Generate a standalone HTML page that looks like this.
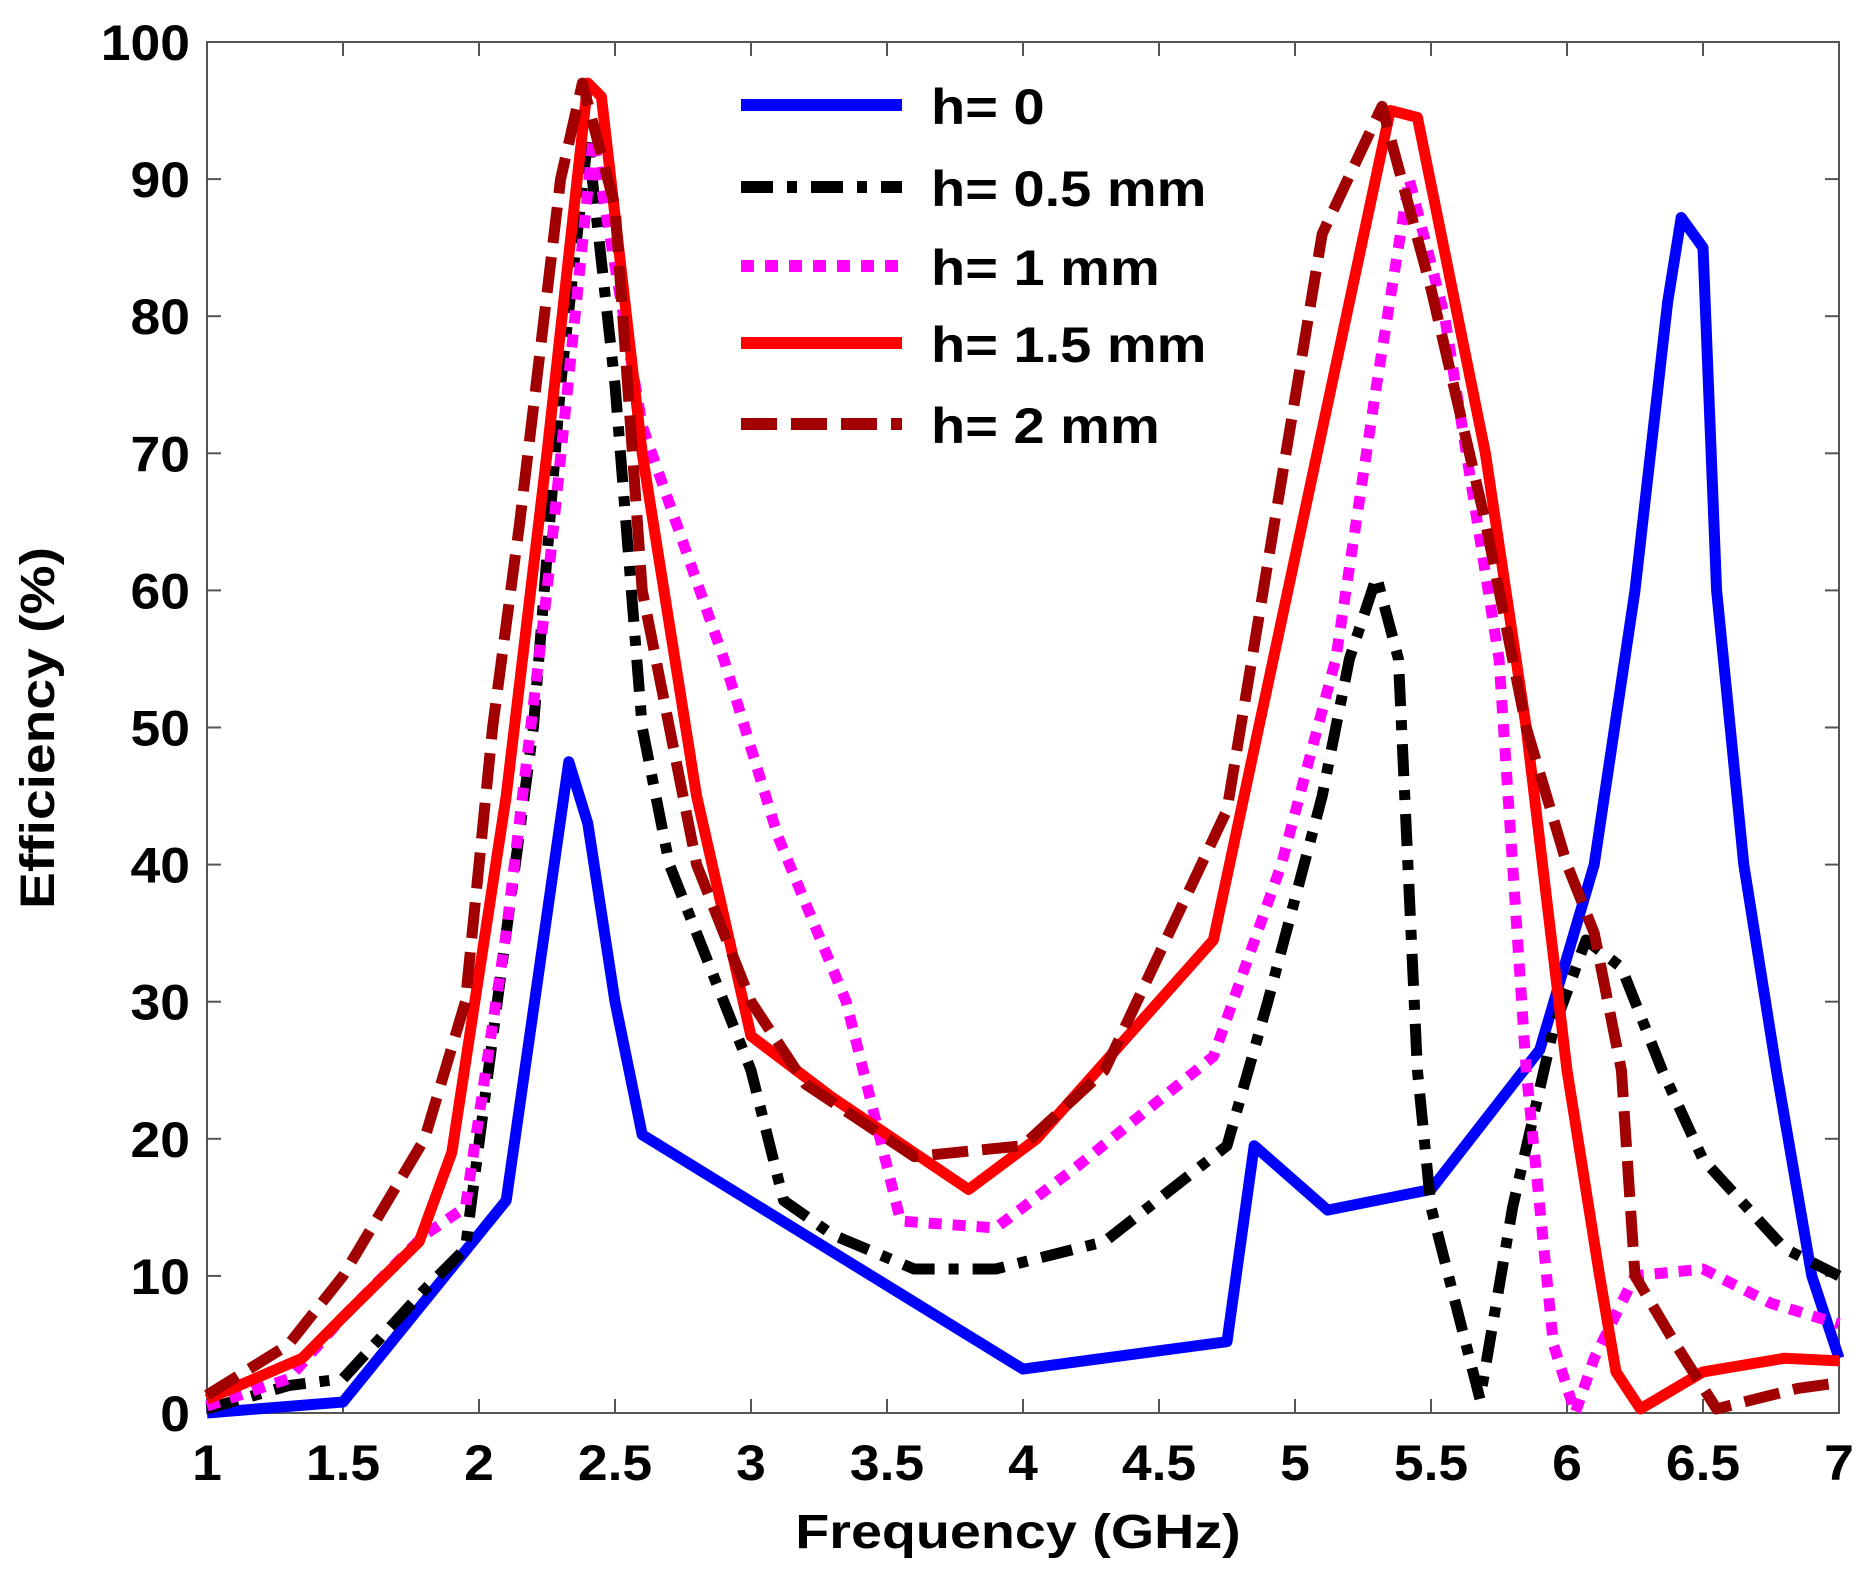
<!DOCTYPE html>
<html><head><style>
html,body{margin:0;padding:0;background:#fff;}
svg text{font-family:"Liberation Sans",Arial,sans-serif;font-weight:bold;fill:#000;}
</style></head><body>
<svg id="s" width="1869" height="1571" xmlns="http://www.w3.org/2000/svg"></svg>
<script>
const X0=207,XS=272,Y0=1413,YS=13.71;
const px=f=>X0+(f-1)*XS, py=v=>Y0-v*YS;
const s=document.getElementById('s');
let h='';
function T(x,y,txt,fs,anchor,sx,rot){
 return `<g transform="translate(${x},${y})${rot?' rotate(-90)':''} scale(${sx},1)"><text x="0" y="0" font-size="${fs}" text-anchor="${anchor}">${txt}</text></g>`;}
h+='<defs><clipPath id="c"><rect x="200" y="36" width="1646" height="1384"/></clipPath></defs>';
const data=[
['#0000ff','none',[[1,0],[1.5,0.8],[2.1,15.5],[2.33,47.5],[2.4,43],[2.5,30],[2.6,20.3],[4,3.2],[4.75,5.2],[4.85,19.5],[5.12,14.8],[5.5,16.3],[5.9,26.5],[6.1,40],[6.25,60],[6.37,81],[6.42,87.2],[6.5,85],[6.55,60],[6.65,40],[6.77,25],[6.9,10],[7,4]]],
['#000','32 14 10 14',[[1,0.3],[1.3,2],[1.5,2.5],[1.8,9],[1.95,12],[2.1,35],[2.2,50],[2.3,75],[2.4,93],[2.5,75],[2.6,50],[2.7,40],[3,25],[3.12,15.5],[3.3,13],[3.6,10.5],[3.9,10.5],[4.3,12.5],[4.75,19.5],[4.9,30],[5.1,45],[5.2,55],[5.3,61],[5.38,55],[5.45,25],[5.5,15],[5.68,1],[5.8,15],[5.95,28],[6.07,34.5],[6.2,32.5],[6.35,25],[6.5,18.5],[6.8,12],[7,10]]],
['#ff00ff','13 11',[[1,0.5],[1.3,2.5],[1.5,7],[1.8,13],[1.95,15],[2.1,35],[2.25,60],[2.42,93],[2.6,72],[2.9,55],[3.1,42],[3.35,30],[3.55,14],[3.9,13.5],[4.2,18],[4.7,26],[4.95,40],[5.15,55],[5.3,75],[5.42,90],[5.55,80],[5.75,55],[5.85,25],[5.95,5],[6.03,0],[6.1,4],[6.25,10],[6.5,10.5],[6.75,8],[7,6.5]]],
['#ff0000','none',[[1,1],[1.35,4],[1.5,7],[1.78,12.5],[1.9,19],[2.1,45],[2.25,70],[2.4,97],[2.45,96],[2.6,70],[2.8,45],[3,27.5],[3.3,23],[3.8,16.3],[4.05,20],[4.7,34.5],[5.35,95],[5.45,94.5],[5.7,70],[5.85,50],[6,25],[6.12,10],[6.18,3],[6.27,0.3],[6.5,3],[6.8,4],[7,3.8]]],
['#a00000','36 14',[[1,1.3],[1.3,5],[1.5,10],[1.8,20],[1.95,30],[2.05,50],[2.15,65],[2.3,90],[2.38,97],[2.5,88],[2.6,60],[2.8,40],[3,30],[3.2,24],[3.6,18.7],[4,19.5],[4.3,25],[4.75,44],[5.1,86],[5.32,95.3],[5.5,82],[5.7,65],[5.85,50],[6,40],[6.1,35],[6.2,25],[6.25,10],[6.4,5],[6.55,0.3],[6.85,1.8],[7,2.2]]]
];
h+='<rect x="'+X0+'" y="42" width="'+(6*XS)+'" height="'+(Y0-42)+'" fill="none" stroke="#555" stroke-width="2"/>';
for(let i=0;i<=12;i++){const x=px(1+i*0.5);
 h+=`<line x1="${x}" y1="${Y0}" x2="${x}" y2="${Y0-14}" stroke="#555" stroke-width="2"/><line x1="${x}" y1="42" x2="${x}" y2="56" stroke="#555" stroke-width="2"/>`;
 h+=T(x,1480,(1+i*0.5),50,'middle',1.07);}
for(let i=0;i<=10;i++){const y=py(i*10);
 h+=`<line x1="${X0}" y1="${y}" x2="${X0+14}" y2="${y}" stroke="#555" stroke-width="2"/><line x1="${X0+6*XS}" y1="${y}" x2="${X0+6*XS-14}" y2="${y}" stroke="#555" stroke-width="2"/>`;
 h+=T(190,y+18,i*10,50,'end',1.07);}
h+='<g clip-path="url(#c)">';
for(const [c,d,pts] of data){
 h+=`<polyline fill="none" stroke="${c}" stroke-width="11" stroke-linejoin="round" ${d!='none'?'stroke-dasharray="'+d+'"':''} points="${pts.map(p=>px(p[0]).toFixed(1)+','+py(p[1]).toFixed(1)).join(' ')}"/>`;}
h+='</g>';
const leg=[['#0000ff','none','h= 0',105],['#000','32 14 10 14','h= 0.5 mm',187],['#ff00ff','13 11','h= 1 mm',266],['#ff0000','none','h= 1.5 mm',343],['#a00000','36 14','h= 2 mm',424]];
for(const [c,d,t,y] of leg){
 h+=`<line x1="741" y1="${y}" x2="902" y2="${y}" stroke="${c}" stroke-width="12" ${d!='none'?'stroke-dasharray="'+d+'"':''}/>`;
 h+=T(931,y+19,t,50,'start',1.12);}
h+=T(1018,1548,'Frequency (GHz)',48,'middle',1.16);
h+=T(54,728,'Efficiency (%)',48,'middle',1.15,true);
s.innerHTML=h;
</script>
</body></html>
